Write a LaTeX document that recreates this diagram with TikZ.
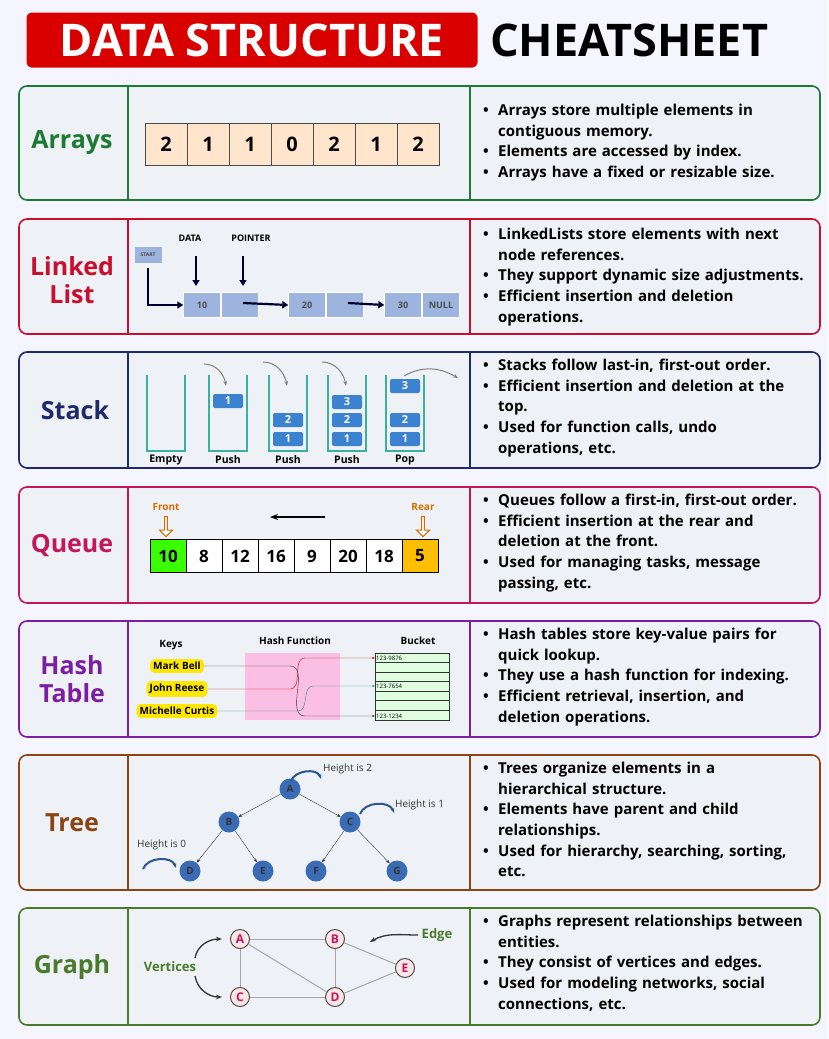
\documentclass[tikz,border=0pt]{standalone}
\usepackage{fontspec}
\setmainfont{Open Sans}
\usetikzlibrary{arrows.meta,shapes.arrows}
\definecolor{cgreen}{HTML}{1C7A33}
\definecolor{cred}{HTML}{C8102E}
\definecolor{cnavy}{HTML}{1F2A6B}
\definecolor{cmag}{HTML}{C2185B}
\definecolor{cpurp}{HTML}{7B1FA2}
\definecolor{cbrown}{HTML}{8B4513}
\definecolor{colive}{HTML}{4A7A2C}
\definecolor{panelbg}{HTML}{EEF1F5}
\definecolor{llblue}{HTML}{9DB5DE}
\definecolor{stblue}{HTML}{3B82D0}
\definecolor{teal}{HTML}{3AB0A0}
\definecolor{treeblue}{HTML}{3A6BB5}
\begin{document}
\begin{tikzpicture}[x=1pt,y=-1pt,
  panel/.style={draw=#1,line width=1.6pt,rounded corners=8pt,fill=panelbg},
  ttl/.style={font=\fontsize{25}{28}\selectfont\bfseries,text=#1,align=center},
  bul/.style={anchor=north west,text width=340pt,align=left,font=\fontsize{15}{20.6}\selectfont\bfseries,inner sep=0pt},
  acell/.style={draw=black!70,fill=orange!20,minimum width=42pt,minimum height=42pt,font=\fontsize{20}{20}\selectfont\bfseries,inner sep=0pt},
  llc/.style={fill=llblue,draw=white,minimum width=37pt,minimum height=25pt,font=\fontsize{9}{9}\selectfont\bfseries,text=black!70,inner sep=0pt},
  stb/.style={fill=stblue,rounded corners=2pt,minimum width=30pt,minimum height=14pt,font=\fontsize{11}{11}\selectfont\bfseries,text=white,inner sep=0pt},
  stl/.style={font=\fontsize{10.5}{11}\selectfont\bfseries},
  qc/.style={draw=black,line width=1pt,fill=white,minimum width=36pt,minimum height=33pt,font=\fontsize{17}{17}\selectfont\bfseries,inner sep=0pt},
  key/.style={fill=yellow!90!orange,rounded corners=4pt,font=\fontsize{10}{10}\selectfont\bfseries,inner sep=3pt},
  tn/.style={circle,fill=treeblue,minimum size=21pt,inner sep=0pt,font=\fontsize{10}{10}\selectfont\bfseries,text=black!80},
  gn/.style={circle,draw=black!70,line width=1pt,fill=pink!40,minimum size=19pt,inner sep=0pt,font=\fontsize{12}{12}\selectfont\bfseries,text=cmag}]
\useasboundingbox (0,0) rectangle (828,1039);
\fill[white!96!blue] (0,0) rectangle (828,1039);
% title
\node[fill=red!85!black,rounded corners=5pt,minimum width=451pt,minimum height=55pt,text=white,font=\fontsize{45}{45}\selectfont\bfseries,inner sep=0pt] (title) at (252,40) {DATA STRUCTURE};
\node[font=\fontsize{45}{45}\selectfont\bfseries,anchor=west,inner sep=0pt] (title2) at (490,40) {CHEATSHEET};
% panels
\foreach \c/\a/\b in {cgreen/86/200,cred/219/334,cnavy/352/468,cmag/487/603,cpurp/621/737,cbrown/755/890,colive/908/1025}{
  \draw[panel=\c] (19,\a) rectangle (820,\b);
  \draw[\c,line width=1.4pt] (128,\a) -- (128,\b) (470,\a) -- (470,\b);
}
% left titles
\node[ttl=cgreen] (t1) at (72,143) {Arrays};
\node[ttl=cred] (t2) at (72,280) {Linked\\List};
\node[ttl=cnavy] (t3) at (75,410) {Stack};
\node[ttl=cmag] (t4) at (72,546) {Queue};
\node[ttl=cpurp] (t5) at (72,679) {Hash\\Table};
\node[ttl=cbrown] (t6) at (72,823) {Tree};
\node[ttl=colive] (t7) at (72,967) {Graph};
% bullets
\def\h{\hspace*{15pt}}
\def\bb{\makebox[15pt][l]{\textbullet}}
\node[bul] (b1) at (483,104) {\bb Arrays store multiple elements in\\\h contiguous memory.\\\bb Elements are accessed by index.\\\bb Arrays have a fixed or resizable size.};
\node[bul] (b2) at (483,228) {\bb LinkedLists store elements with next\\\h node references.\\\bb They support dynamic size adjustments.\\\bb Efficient insertion and deletion\\\h operations.};
\node[bul] (b3) at (483,359) {\bb Stacks follow last-in, first-out order.\\\bb Efficient insertion and deletion at the\\\h top.\\\bb Used for function calls, undo\\\h operations, etc.};
\node[bul] (b4) at (483,494) {\bb Queues follow a first-in, first-out order.\\\bb Efficient insertion at the rear and\\\h deletion at the front.\\\bb Used for managing tasks, message\\\h passing, etc.};
\node[bul] (b5) at (483,628) {\bb Hash tables store key-value pairs for\\\h quick lookup.\\\bb They use a hash function for indexing.\\\bb Efficient retrieval, insertion, and\\\h deletion operations.};
\node[bul] (b6) at (483,762) {\bb Trees organize elements in a\\\h hierarchical structure.\\\bb Elements have parent and child\\\h relationships.\\\bb Used for hierarchy, searching, sorting,\\\h etc.};
\node[bul] (b7) at (483,915) {\bb Graphs represent relationships between\\\h entities.\\\bb They consist of vertices and edges.\\\bb Used for modeling networks, social\\\h connections, etc.};
% arrays
\foreach \v [count=\i] in {2,1,1,0,2,1,2}
  \node[acell] (a\i) at (124+42*\i,144) {\v};
% linked list
\node[fill=llblue,font=\fontsize{5}{5}\selectfont\bfseries,text=black!70,minimum width=27pt,minimum height=16pt,inner sep=0pt] (start) at (148,255) {START};
\node[llc] (n1a) at (202,305) {10}; \node[llc] (n1b) at (240,305) {};
\node[llc] (n2a) at (307,305) {20}; \node[llc] (n2b) at (345,305) {};
\node[llc] (n3a) at (403,305) {30}; \node[llc] (n3b) at (441,305) {NULL};
\node[font=\fontsize{9}{9}\selectfont\bfseries] (dl) at (190,238) {DATA};
\node[font=\fontsize{9}{9}\selectfont\bfseries] (pl) at (251,238) {POINTER};
\tikzset{llarr/.style={-{Triangle[length=6pt,width=7pt]},line width=2.2pt,black!80!blue}}
\draw[llarr] (196,256) -- (196,286);
\draw[llarr] (243,256) -- (243,286);
\draw[llarr] (start.south) ++(0,5) |- (n1a.west);
\draw[llarr] (243,303) -- (n2a.west);
\draw[llarr] (348,303) -- (n3a.west);
% stack
\foreach \x/\l [count=\i] in {166/Empty,228/Push,288/Push,347/Push,405/Pop}{
  \draw[teal,line width=1.3pt] (\x-19,375) -- (\x-19,451) -- (\x+19,451) -- (\x+19,375);
  \node[stl] (sl\i) at (\x,460) {\l};
}
\node[stb] at (228,401) {1};
\node[stb] at (288,420) {2}; \node[stb] at (288,439) {1};
\node[stb] at (347,402) {3}; \node[stb] at (347,420) {2}; \node[stb] at (347,439) {1};
\node[stb] at (405,386) {3}; \node[stb] at (405,420) {2}; \node[stb] at (405,439) {1};
\tikzset{garr/.style={-{Stealth[length=5pt]},gray,line width=1pt}}
\draw[garr] (204,364) to[out=0,in=100] (226,386);
\draw[garr] (263,362) to[out=0,in=100] (287,386);
\draw[garr] (322,362) to[out=0,in=100] (346,386);
\draw[garr] (404,376) to[out=30,in=150] (458,378);
% queue
\foreach \v [count=\i] in {10,8,12,16,9,20,18,5}
  \node[qc] (q\i) at (150+36*\i-18,556) {\v};
\node[qc,fill=green!70!lime] at (q1) {10};
\node[qc,fill=orange!50!yellow] at (q8) {5};
\node[font=\fontsize{10}{10}\selectfont\bfseries,text=orange!85!black] (fr) at (166,507) {Front};
\node[font=\fontsize{10}{10}\selectfont\bfseries,text=orange!85!black] (re) at (423,507) {Rear};
\node[single arrow,draw=orange!85!black,line width=1pt,fill=white,rotate=-90,minimum height=20pt,minimum width=13pt,single arrow head extend=2pt,inner sep=0pt] at (166,526) {};
\node[single arrow,draw=orange!85!black,line width=1pt,fill=white,rotate=-90,minimum height=20pt,minimum width=13pt,single arrow head extend=2pt,inner sep=0pt] at (423,526) {};
\draw[-{Stealth[length=8pt]},line width=2pt] (325,517) -- (270,517);
% hash table
\fill[magenta!25] (245,653) rectangle (340,720);
\node[font=\fontsize{10}{10}\selectfont\bfseries] (hk) at (171,645) {Keys};
\node[font=\fontsize{10}{10}\selectfont\bfseries] (hf) at (295,641) {Hash Function};
\node[font=\fontsize{10}{10}\selectfont\bfseries] (hb) at (418,641) {Bucket};
\node[key] (k1) at (177,666) {Mark Bell};
\node[key] (k2) at (177,689) {John Reese};
\node[key] (k3) at (177,711) {Michelle Curtis};
\foreach \i in {0,...,6}
  \draw[black!80,fill=green!12,line width=0.8pt] (375,653+9.57*\i) rectangle (449,653+9.57*\i+9.57);
\node[font=\fontsize{6}{6}\selectfont,anchor=west,inner sep=1pt] (r1) at (375,658) {123-9876};
\node[font=\fontsize{6}{6}\selectfont,anchor=west,inner sep=1pt] (r2) at (375,686) {123-7654};
\node[font=\fontsize{6}{6}\selectfont,anchor=west,inner sep=1pt] (r3) at (375,716) {123-1234};
\draw[black!80,-{Stealth[length=3pt]}] (k1.east) -- (290,666) to[out=0,in=180] (305,716) -- (r3.west);
\draw[red!80!black,-{Stealth[length=3pt]}] (k2.east) -- (290,689) to[out=0,in=180] (305,658) -- (r1.west);
\draw[teal!80!black,-{Stealth[length=3pt]}] (k3.east) -- (298,711) to[out=0,in=180] (313,686) -- (r2.west);
% tree
\node[tn] (A) at (290,789) {A};
\node[tn] (B) at (229,822) {B};
\node[tn] (C) at (350,822) {C};
\node[tn] (D) at (190,871) {D};
\node[tn] (E) at (263,871) {E};
\node[tn] (F) at (316,871) {F};
\node[tn] (G) at (397,871) {G};
\foreach \p/\q in {A/B,A/C,B/D,B/E,C/F,C/G}
  \draw[-{Stealth[length=4pt]},black!80] (\p) -- (\q);
\tikzset{tl/.style={font=\fontsize{10}{10}\selectfont,text=black!80,anchor=west,inner sep=0pt}}
\node[tl] (h2) at (323,769) {Height is 2};
\node[tl] (h1) at (395,805) {Height is 1};
\node[tl] (h0) at (137,845) {Height is 0};
\tikzset{tarr/.style={-{Stealth[length=5pt]},line width=2pt,treeblue!80!black}}
\draw[tarr] (291,781) to[out=70,in=110] (321,779);
\draw[tarr] (360,814) to[out=70,in=110] (394,813);
\draw[tarr] (143,869) to[out=70,in=110] (176,868);
% graph
\node[gn] (GA) at (240,939) {A};
\node[gn] (GB) at (335,939) {B};
\node[gn] (GC) at (240,997) {C};
\node[gn] (GD) at (335,997) {D};
\node[gn] (GE) at (405,968) {E};
\foreach \p/\q in {GA/GB,GA/GC,GA/GD,GB/GD,GB/GE,GC/GD,GD/GE}
  \draw[gray!70,line width=1pt] (\p) -- (\q);
\node[font=\fontsize{13}{13}\selectfont\bfseries,text=colive] (vt) at (170,967) {Vertices};
\node[font=\fontsize{13}{13}\selectfont\bfseries,text=colive] (ed) at (437,935) {Edge};
\draw[-{Stealth[length=6pt,open]},line width=1.3pt,black!80] (195,958) to[out=80,in=180] (222,939);
\draw[-{Stealth[length=6pt,open]},line width=1.3pt,black!80] (195,976) to[out=-80,in=180] (222,997);
\draw[-{Stealth[length=6pt,open]},line width=1.3pt,black!80] (ed.west) to[out=180,in=30] (370,942);
\end{tikzpicture}
\end{document}
